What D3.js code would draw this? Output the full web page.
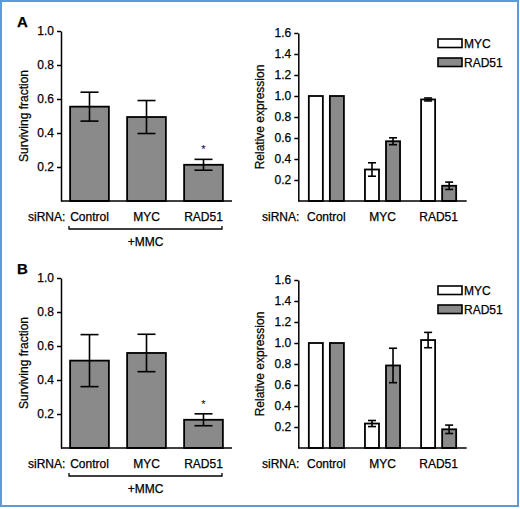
<!DOCTYPE html>
<html>
<head>
<meta charset="utf-8">
<script src="https://cdn.jsdelivr.net/npm/d3@7"></script>
<style>
  body { margin: 0; background: #fff; }
  svg { display: block; font-family: "Liberation Sans", Arial, sans-serif; }
  text { stroke: #000; stroke-width: 0.25px; }
</style>
</head>
<body>
<script>
// --- data ---
var categories = ["Control", "MYC", "RAD51"];
var seriesNames = ["MYC", "RAD51"];

// surviving fraction (+MMC), mean and error
var survA = [0.555, 0.494, 0.213];
var survAErr = [0.085, 0.097, 0.032];
var survB = [0.514, 0.559, 0.166];
var survBErr = [0.153, 0.11, 0.035];

// relative expression
var exprA_MYC = [1.0, 0.30, 0.967];
var exprA_MYCErr = [0, 0.064, 0.014];
var exprA_RAD51 = [1.0, 0.569, 0.145];
var exprA_RAD51Err = [0, 0.033, 0.035];
var exprB_MYC = [1.0, 0.233, 1.028];
var exprB_MYCErr = [0, 0.029, 0.073];
var exprB_RAD51 = [1.0, 0.786, 0.178];
var exprB_RAD51Err = [0, 0.164, 0.04];

var survTicks = [0.2, 0.4, 0.6, 0.8, 1.0];
var exprTicks = [0.2, 0.4, 0.6, 0.8, 1.0, 1.2, 1.4, 1.6];
var signif = [false, false, true];

var W = 520, H = 509;
var gray = "#8a8a8a";
var fs = "12px";

var svg = d3.select("body").append("svg").attr("width", W).attr("height", H);

// frame
svg.append("rect").attr("x", 1).attr("y", 1).attr("width", W - 3).attr("height", H - 4)
  .attr("fill", "#fff").attr("stroke", "#5b9bd8").attr("stroke-width", 2);

function yAxis(g, y, ticks, x0) {
  var ax = g.append("g").attr("transform", "translate(" + x0 + ",0)")
    .call(d3.axisLeft(y).tickValues(ticks).tickSize(4).tickSizeOuter(0).tickPadding(3)
      .tickFormat(d3.format(".1f")));
  ax.select(".domain").attr("stroke", "#000").attr("stroke-width", 1.5);
  ax.selectAll(".tick line").attr("stroke", "#000").attr("stroke-width", 1.5);
  ax.selectAll(".tick text").attr("font-size", fs).attr("fill", "#000")
    .attr("font-family", "Liberation Sans, Arial, sans-serif");
}

function xLine(g, x, base) {
  g.append("line").attr("x1", x.range()[0]).attr("x2", x.range()[1])
    .attr("y1", base).attr("y2", base).attr("stroke", "#000").attr("stroke-width", 1.5);
}

function errBar(g, cx, y, v, e, cap) {
  if (!e) return;
  var eb = g.append("g").attr("stroke", "#000").attr("stroke-width", 1.6);
  eb.append("line").attr("x1", cx).attr("x2", cx).attr("y1", y(v - e)).attr("y2", y(v + e));
  eb.append("line").attr("x1", cx - cap / 2).attr("x2", cx + cap / 2).attr("y1", y(v + e)).attr("y2", y(v + e));
  eb.append("line").attr("x1", cx - cap / 2).attr("x2", cx + cap / 2).attr("y1", y(v - e)).attr("y2", y(v - e));
}

function catLabels(g, x, base, labelX, centerFn) {
  g.append("text").attr("x", labelX).attr("y", base + 20).attr("font-size", fs)
    .attr("fill", "#000").text("siRNA:");
  g.selectAll("text.cat").data(categories).enter().append("text").attr("class", "cat")
    .attr("x", function (d) { return centerFn(d); }).attr("y", base + 20)
    .attr("text-anchor", "middle").attr("font-size", fs).attr("fill", "#000")
    .text(function (d) { return d; });
}

function survPanel(letter, base, vals, errs) {
  var g = svg.append("g");
  var x = d3.scaleBand().domain(categories).range([61, 232]).paddingInner(0.32).paddingOuter(0.16);
  var y = d3.scaleLinear().domain([0, 1.0]).range([base, base - 170]);

  g.append("text").attr("x", 17).attr("y", base - 174).attr("font-size", "15px")
    .attr("font-weight", "bold").text(letter);

  g.selectAll("rect.bar").data(vals).enter().append("rect").attr("class", "bar")
    .attr("x", function (d, i) { return x(categories[i]); })
    .attr("y", function (d) { return y(d); })
    .attr("width", x.bandwidth())
    .attr("height", function (d) { return base - y(d); })
    .attr("fill", gray).attr("stroke", "#000").attr("stroke-width", 1.8);

  vals.forEach(function (v, i) {
    var cx = x(categories[i]) + x.bandwidth() / 2;
    errBar(g, cx, y, v, errs[i], 18);
    if (signif[i]) {
      g.append("text").attr("x", cx).attr("y", y(v + errs[i]) - 6).attr("text-anchor", "middle")
        .attr("font-size", "11px").style("stroke", "none").text("*");
    }
  });

  yAxis(g, y, survTicks, 61);
  xLine(g, x, base);

  g.append("text").attr("transform", "translate(28," + (base - 85) + ") rotate(-90)")
    .attr("text-anchor", "middle").attr("font-size", fs).attr("fill", "#000")
    .text("Surviving fraction");

  catLabels(g, x, base, 28, function (d) { return x(d) + x.bandwidth() / 2; });

  // +MMC bracket
  var bx0 = 69, bx1 = 222, by = base + 28;
  g.append("path").attr("d", "M" + bx0 + "," + (by - 3) + "V" + by + "H" + bx1 + "V" + (by - 3))
    .attr("fill", "none").attr("stroke", "#000").attr("stroke-width", 1.3);
  g.append("text").attr("x", (bx0 + bx1) / 2).attr("y", by + 17).attr("text-anchor", "middle")
    .attr("font-size", fs).attr("fill", "#000").text("+MMC");
}

function exprPanel(base, myc, mycErr, rad, radErr) {
  var g = svg.append("g");
  var x = d3.scaleBand().domain(categories).range([298.3, 466.7]).paddingInner(0.375).paddingOuter(0.1875);
  var xs = d3.scaleBand().domain(seriesNames).range([0, x.bandwidth()]).paddingInner(1 / 3);
  var y = d3.scaleLinear().domain([0, 1.6]).range([base, base - 168]);
  var fills = { MYC: "#fff", RAD51: gray };
  var sets = [
    { name: "MYC", vals: myc, errs: mycErr },
    { name: "RAD51", vals: rad, errs: radErr }
  ];

  sets.forEach(function (s) {
    g.selectAll("rect.b" + s.name).data(s.vals).enter().append("rect").attr("class", "b" + s.name)
      .attr("x", function (d, i) { return x(categories[i]) + xs(s.name); })
      .attr("y", function (d) { return y(d); })
      .attr("width", xs.bandwidth())
      .attr("height", function (d) { return base - y(d); })
      .attr("fill", fills[s.name]).attr("stroke", "#000").attr("stroke-width", 1.8);
    s.vals.forEach(function (v, i) {
      errBar(g, x(categories[i]) + xs(s.name) + xs.bandwidth() / 2, y, v, s.errs[i], 8);
    });
  });

  yAxis(g, y, exprTicks, 298.3);
  xLine(g, x, base);

  g.append("text").attr("transform", "translate(264," + (base - 84) + ") rotate(-90)")
    .attr("text-anchor", "middle").attr("font-size", fs).attr("fill", "#000")
    .text("Relative expression");

  catLabels(g, x, base, 262, function (d) { return x(d) + x.bandwidth() / 2; });

  // legend
  var lg = g.append("g").attr("transform", "translate(438," + (base - 162) + ")");
  seriesNames.forEach(function (n, i) {
    lg.append("rect").attr("x", 0).attr("y", i * 19).attr("width", 24).attr("height", 8.5)
      .attr("fill", fills[n]).attr("stroke", "#000").attr("stroke-width", 1.6);
    lg.append("text").attr("x", 26).attr("y", i * 19 + 9).attr("font-size", fs)
      .attr("fill", "#000").text(n);
  });
}

survPanel("A", 201, survA, survAErr);
exprPanel(201, exprA_MYC, exprA_MYCErr, exprA_RAD51, exprA_RAD51Err);
survPanel("B", 448, survB, survBErr);
exprPanel(448, exprB_MYC, exprB_MYCErr, exprB_RAD51, exprB_RAD51Err);
</script>
</body>
</html>
